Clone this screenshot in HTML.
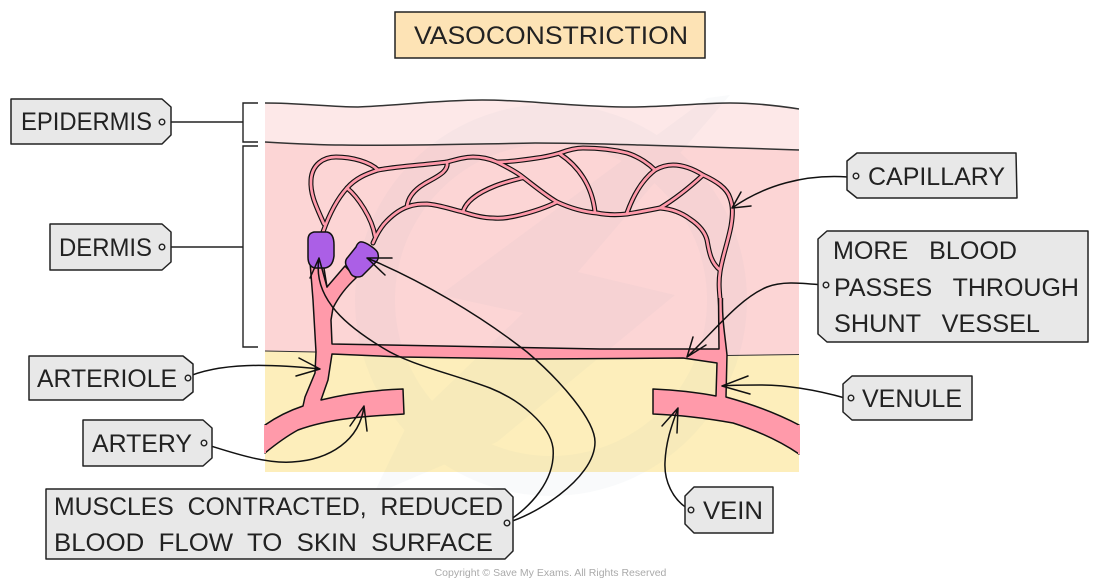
<!DOCTYPE html>
<html><head><meta charset="utf-8"><style>
html,body{margin:0;padding:0;background:#fff}
svg{display:block}
text{font-family:"Liberation Sans",sans-serif;font-size:25px;fill:#222;white-space:pre}
.l{fill:#e8e8e8;stroke:#222;stroke-width:1.5;stroke-linejoin:round}
.a{fill:none;stroke:#111;stroke-width:1.5;stroke-linecap:round;stroke-linejoin:round}
.c{fill:#e8e8e8;stroke:#222;stroke-width:1.4}
</style></head><body>
<svg width="1100" height="584" viewBox="0 0 1100 584" xmlns="http://www.w3.org/2000/svg">
<defs>
<g id="cap" fill="none" stroke-linecap="round" stroke-linejoin="round">
<path d="M324 224C316 206 310 194 311 180C312 164 324 157 336 157C352 157 370 162 378 170"/>
<path d="M323 232C330 212 338 198 347 188C356 178 366 174 378 170C400 166 425 165 447 162C458 159 465 157 473 157C483 157 490 159 497 162C505 166 513 170 520 175C532 184 545 195 557 202C570 208 584 212 597 213C607 215 618 215 627 214C640 212 650 210 660 208C675 199 690 187 703 175"/>
<path d="M497 162C510 162 524 160 537 158C545 157 553 155 560 153C568 150 575 148 583 148C600 148 615 150 627 153C640 157 650 165 655 170"/>
<path d="M560 154C578 166 592 185 595 212"/>
<path d="M627 213C633 196 642 180 655 170C662 166 668 165 673 165C684 165 695 170 703 175C716 181 727 188 730 198C733 206 733 214 731 226C728 242 722 258 720 272C718 285 720 295 720.500 306"/>
<path d="M660 208C672 209 682 213 690 219C699 225 705 232 707 240C709 250 710 262 720 270"/>
<path d="M373 243C376 236 379 230 384 224C392 215 399 210 407 207C415 204 421 204 427 204C440 205 450 209 463 212C475 216 485 218 493 218C503 219 512 217 520 215C532 212 545 208 557 202"/>
<path d="M347 188C358 197 372 218 375 236"/>
<path d="M407 207C408 197 414 190 424 184C436 177 449 172 447 162"/>
<path d="M463 212C466 200 480 192 495 186C505 182 514 180 522 178"/>
</g>
</defs>

<!-- skin -->
<path d="M265 103C300 103 330 107 358 107C390 106 440 100 482 100C510 100 530 102 560 104C590 106 610 107 630 107C665 107 700 103 730 103C755 103 780 106 799 109L799 152L265 145Z" fill="#fde8e8"/>
<path d="M265 142C300 144 320 145 342 145C400 146 470 144 535 143C570 143 605 144 640 145C690 147 745 148 799 150L799 356L265 352Z" fill="#fcd5d5"/>
<path d="M265 351L320 352L500 356L799 355L799 472L265 472Z" fill="#fdeebb"/>

<!-- watermark -->
<g fill="#5f8aa0" opacity=".03">
<path fill-rule="evenodd" d="M355 300A196 196 0 1 1 747 300A196 196 0 1 1 355 300ZM395 300A156 156 0 1 0 707 300A156 156 0 1 0 395 300Z"/>
<path d="M440 295L707 98L730 95L578 272L675 295L497 442L373 495L407 425L523 313Z"/>
</g>

<path d="M265 103C300 103 330 107 358 107C390 106 440 100 482 100C510 100 530 102 560 104C590 106 610 107 630 107C665 107 700 103 730 103C755 103 780 106 799 109" fill="none" stroke="#333" stroke-width="1.500"/>
<path d="M265 142C300 144 320 145 342 145C400 146 470 144 535 143C570 143 605 144 640 145C690 147 745 148 799 150" fill="none" stroke="#333" stroke-width="1.500"/>
<path d="M265 351L316 352M727 355.500L799 354.500" fill="none" stroke="#333" stroke-width="1"/>

<!-- vessels -->
<use href="#cap" stroke="#111" stroke-width="5"/>
<use href="#cap" stroke="#ff9aaa" stroke-width="2.700"/>
<path d="M718.500 298L719 349L600 349L332 344L331 320L333 308C338 298 345 288 356 278L345 266L327 287L323 262L310 262L313 300L316 352L315 373L305 397L303 406C288 411 275 418 265 425L265 453C276 444 287 436 298 430C330 418 370 416 404 414L403 389C375 390 345 394 321 400L328 380L332 354L402 357L535 359L683 358L717 363L716 396C695 392 675 390 653 389L653 414C680 415 705 418 733 423C758 431 780 441 799 454L799 425C778 414 755 405 726 397L727 355C725 335 722 320 722.500 298" fill="#ff9aaa" stroke="#111" stroke-width="1.500" stroke-linejoin="round"/>
<path d="M265 425L265 453M799 425L799 454" stroke="#ff9aaa" stroke-width="2" fill="none"/>

<!-- muscles -->
<path d="M314 232L327 232C332 233 334 238 334 245L334 256C333 264 330 267 325 268L315 268C310 267 308 263 308 257L308 240C308 235 310 233 314 232Z" fill="#ab5fe6" stroke="#111" stroke-width="1.500"/>
<path d="M360 242C365 241 378 250 378 254C379 258 378 260 376 262L362 276C358 278 353 277 351 274L346 265C345 262 346 259 348 257L356 247C357 244 358 243 360 242Z" fill="#ab5fe6" stroke="#111" stroke-width="1.500"/>

<!-- brackets -->
<path d="M258 103H243V142H258M258 146H243V347H258" fill="none" stroke="#222" stroke-width="1.400"/>
<path d="M171 122H243M171 247H243" fill="none" stroke="#222" stroke-width="1.400"/>

<!-- connectors -->
<g class="a">
<path d="M848 177C805 174 765 185 732 208M741 192L732 208L751 206"/>
<path d="M823 285C800 283 782 281 767 287C740 298 715 330 687 357M693 337L687 357L706 345"/>
<path d="M845 398C820 391 790 385 760 385C745 385 733 385 722 386M748 376L722 386L750 394"/>
<path d="M690 510C672 500 664 480 665 462C666 440 672 425 678 408M662 426L678 408L677 433"/>
<path d="M185 378C220 362 270 364 320 369M299 358L320 369L296 376"/>
<path d="M201 443C225 450 262 464 292 462C330 460 360 440 364 406M350 426L364 406L367 431"/>
<path d="M505 523C530 508 556 480 553 448C550 425 520 400 490 388C450 373 410 365 383 348C350 328 312 300 319 258M310 278L319 258L327 287"/>
<path d="M505 523C530 518 595 480 595 442C595 420 560 380 527 352C480 315 420 280 367 258M392 258L367 258L385 275"/>
</g>

<!-- title -->
<rect x="395" y="12" width="310" height="46" fill="#fde3b5" stroke="#222" stroke-width="1.500"/>
<text x="414" y="44" textLength="274" lengthAdjust="spacingAndGlyphs">VASOCONSTRICTION</text>

<!-- labels -->
<path class="l" d="M11 99H162L171 107V135L162 144H11Z"/>
<text x="21" y="130" textLength="131" lengthAdjust="spacingAndGlyphs">EPIDERMIS</text>
<circle class="c" cx="162" cy="122" r="2.800"/>

<path class="l" d="M50 224H162L171 232V262L162 270H50Z"/>
<text x="59" y="256" textLength="93" lengthAdjust="spacingAndGlyphs">DERMIS</text>
<circle class="c" cx="162" cy="247" r="2.800"/>

<path class="l" d="M29 356H183L193 364V392L183 400H29Z"/>
<text x="37" y="387" textLength="140" lengthAdjust="spacingAndGlyphs">ARTERIOLE</text>
<circle class="c" cx="188" cy="378" r="2.800"/>

<path class="l" d="M83 420H203L212 428V458L203 466H83Z"/>
<text x="92" y="452" textLength="100" lengthAdjust="spacingAndGlyphs">ARTERY</text>
<circle class="c" cx="204" cy="443" r="2.800"/>

<path class="l" d="M46 489H505L513 497V551L505 559H46Z"/>
<text x="54" y="515" textLength="449" lengthAdjust="spacingAndGlyphs">MUSCLES  CONTRACTED,  REDUCED</text>
<text x="54" y="551" textLength="439" lengthAdjust="spacingAndGlyphs">BLOOD  FLOW  TO  SKIN  SURFACE</text>
<circle class="c" cx="507" cy="523" r="2.800"/>

<path class="l" d="M857 153H1016L1017 198H857L847 190V161Z"/>
<text x="868" y="185" textLength="137" lengthAdjust="spacingAndGlyphs">CAPILLARY</text>
<circle class="c" cx="856" cy="176" r="2.800"/>

<path class="l" d="M827 231H1088V342H827L818 334V239Z"/>
<text x="833" y="259" textLength="184" lengthAdjust="spacingAndGlyphs">MORE   BLOOD</text>
<text x="834" y="296" textLength="245" lengthAdjust="spacingAndGlyphs">PASSES   THROUGH</text>
<text x="834" y="332" textLength="206" lengthAdjust="spacingAndGlyphs">SHUNT   VESSEL</text>
<circle class="c" cx="826" cy="285" r="2.800"/>

<path class="l" d="M852 376H972V420H852L843 412V384Z"/>
<text x="862" y="407" textLength="100" lengthAdjust="spacingAndGlyphs">VENULE</text>
<circle class="c" cx="851" cy="398" r="2.800"/>

<path class="l" d="M694 487H773V533H694L685 524V496Z"/>
<text x="703" y="519" textLength="60" lengthAdjust="spacingAndGlyphs">VEIN</text>
<circle class="c" cx="691" cy="510" r="2.800"/>

<text x="550.500" y="576" text-anchor="middle" style="font-size:10.500px;fill:#aaa">Copyright © Save My Exams. All Rights Reserved</text>
</svg>
</body></html>
